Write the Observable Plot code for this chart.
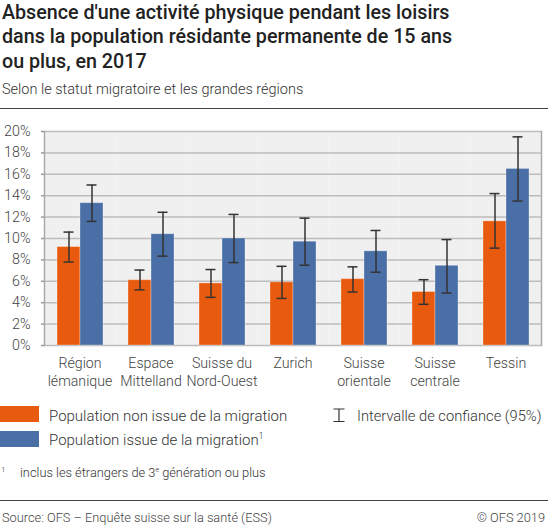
<!DOCTYPE html>
<html>
<head>
<meta charset="utf-8">
<script src="https://cdn.jsdelivr.net/npm/d3@7"></script>
<script src="https://cdn.jsdelivr.net/npm/@observablehq/plot@0.6"></script>
<style>
  html, body { margin: 0; padding: 0; background: #fff; }
  body { width: 548px; height: 525px; position: relative; overflow: hidden; font-family: Roboto, sans-serif; color: #333; }
  .abs { position: absolute; white-space: nowrap; }
  #title { left: 2px; top: 0.5px; font-weight: 500; font-size: 19.7px; line-height: 24.5px; color: #222; }
  #subtitle { left: 2px; top: 82px; font-weight: 300; font-size: 14.5px; line-height: 16.8px; color: #333; }
  .rule { position: absolute; left: 0; width: 548px; height: 1px; background: #444; }
  #chart { position: absolute; left: 0; top: 120px; }
  .sw { position: absolute; left: 0; width: 39px; height: 16px; }
  .leg { font-weight: 300; font-size: 15px; line-height: 16px; color: #333; }
  .leg sup, .foot sup { font-size: 0.55em; vertical-align: 0.7em; line-height: 0; }
  .foot { font-weight: 300; font-size: 12.8px; line-height: 14px; color: #333; }
  .src { font-weight: 300; font-size: 12.8px; line-height: 15px; color: #444; }
</style>
</head>
<body>
<div id="title" class="abs">Absence d'une activité physique pendant les loisirs<br>dans la population résidante permanente de 15 ans<br>ou plus, en 2017</div>
<div id="subtitle" class="abs">Selon le statut migratoire et les grandes régions</div>
<div class="rule" style="top:107.5px"></div>
<div id="chart"></div>
<div id="legend"></div>
<div class="abs foot" style="left:1px; top:463px; font-size:8px">1</div>
<div class="abs foot" style="left:20px; top:465.5px">inclus les étrangers de 3<sup>e</sup> génération ou plus</div>
<div class="rule" style="top:500px"></div>
<div class="abs src" style="left:2px; top:510px">Source: OFS – Enquête suisse sur la santé (ESS)</div>
<div class="abs src" style="right:3px; top:510px">© OFS 2019</div>
<script>
// ---- data ----
const regions = ["Région lémanique", "Espace Mittelland", "Suisse du Nord-Ouest", "Zurich", "Suisse orientale", "Suisse centrale", "Tessin"];
const regionLabels = ["Région\nlémanique", "Espace\nMittelland", "Suisse du\nNord-Ouest", "Zurich", "Suisse\norientale", "Suisse\ncentrale", "Tessin"];
const series = ["Population non issue de la migration", "Population issue de la migration"];
const seriesColors = ["#E85A0D", "#4A6EA6"];
const nonMigValues = [9.2, 6.1, 5.8, 5.9, 6.2, 5.0, 11.6];
const nonMigLow    = [7.8, 5.2, 4.5, 4.4, 5.0, 3.85, 9.1];
const nonMigHigh   = [10.6, 7.05, 7.1, 7.4, 7.35, 6.15, 14.2];
const migValues    = [13.3, 10.4, 10.0, 9.7, 8.8, 7.45, 16.5];
const migLow       = [11.6, 8.35, 7.75, 7.5, 6.85, 4.9, 13.5];
const migHigh      = [15.0, 12.45, 12.25, 11.9, 10.75, 9.9, 19.5];
const yTicks = [0, 2, 4, 6, 8, 10, 12, 14, 16, 18, 20];
const ciLabel = "Intervalle de confiance (95%)";

// ---- table ----
const rows = [];
regions.forEach((r, i) => {
  rows.push({region: r, series: series[0], value: nonMigValues[i], lo: nonMigLow[i], hi: nonMigHigh[i]});
  rows.push({region: r, series: series[1], value: migValues[i], lo: migLow[i], hi: migHigh[i]});
});
const labelOf = new Map(regions.map((r, i) => [r, regionLabels[i]]));

const chart = Plot.plot({
  width: 548,
  height: 280,
  marginTop: 11,
  marginBottom: 55,
  marginLeft: 42,
  marginRight: 5,
  style: {fontFamily: "Roboto, sans-serif", background: "transparent"},
  fx: {domain: regions, padding: 0, label: null},
  x: {domain: series, paddingInner: 0, paddingOuter: 0.54, axis: null},
  y: {domain: [0, 20], axis: null},
  color: {domain: series, range: seriesColors},
  marks: [
    Plot.frame({fill: "#f0f0f0", stroke: null}),
    Plot.gridY(yTicks, {stroke: "#bcbcbc", strokeOpacity: 1, strokeWidth: 1.5}),
    Plot.frame({anchor: "left", facetAnchor: "left", stroke: "#aaa", strokeWidth: 1.5}),
    Plot.frame({anchor: "right", facetAnchor: "right", stroke: "#aaa", strokeWidth: 1.5}),
    Plot.barY(rows, {fx: "region", x: "series", y: "value", fill: "series", stroke: "#fff", strokeOpacity: 0.3, strokeWidth: 1}),
    Plot.ruleX(rows, {fx: "region", x: "series", y1: "lo", y2: "hi", stroke: "#333", strokeWidth: 1.5}),
    Plot.tickY(rows, {fx: "region", x: "series", y: "lo", insetLeft: 6.5, insetRight: 6.5, stroke: "#333", strokeWidth: 1.5}),
    Plot.tickY(rows, {fx: "region", x: "series", y: "hi", insetLeft: 6.5, insetRight: 6.5, stroke: "#333", strokeWidth: 1.5}),
    Plot.axisY({ticks: yTicks, tickSize: 3, tickPadding: 11, tickFormat: d => d + "%", fontSize: 14.3, fontWeight: 300, fill: "#444", stroke: "#999", strokeWidth: 1.5, label: null}),
    Plot.axisFx({anchor: "bottom", tickSize: 0, tickPadding: 9, tickFormat: d => labelOf.get(d), fontSize: 14.2, fontWeight: 300, fill: "#444", lineHeight: 1.3, label: null})
  ]
});
document.getElementById("chart").appendChild(chart);

// ---- legend ----
const legend = document.getElementById("legend");
const swTops = [406, 430.5];
const txtTops = [407.5, 432];
series.forEach((s, i) => {
  const sw = document.createElement("div");
  sw.className = "sw";
  sw.style.top = swTops[i] + "px";
  sw.style.background = seriesColors[i];
  legend.appendChild(sw);
  const t = document.createElement("div");
  t.className = "abs leg";
  t.style.left = "49px";
  t.style.top = txtTops[i] + "px";
  t.innerHTML = s + (i === 1 ? "<sup>1</sup>" : "");
  legend.appendChild(t);
});
const ns = "http://www.w3.org/2000/svg";
const icon = document.createElementNS(ns, "svg");
icon.setAttribute("width", 14); icon.setAttribute("height", 16);
icon.style.position = "absolute"; icon.style.left = "332px"; icon.style.top = "406.5px";
icon.innerHTML = '<path d="M1.5,2H12.5M7,2V14.5M1.5,14.5H12.5" stroke="#333" stroke-width="1.2" fill="none"/>';
legend.appendChild(icon);
const ci = document.createElement("div");
ci.className = "abs leg";
ci.style.left = "357px"; ci.style.top = "407.5px";
ci.style.fontSize = "14.7px";
ci.textContent = ciLabel;
legend.appendChild(ci);
</script>
</body>
</html>
